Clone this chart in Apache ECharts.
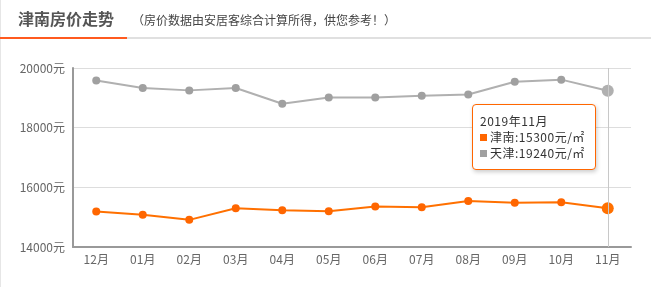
<!DOCTYPE html>
<html><head><meta charset="utf-8">
<script src="https://cdn.jsdelivr.net/npm/echarts@6/dist/echarts.min.js"></script>
<style>html,body{margin:0;padding:0;background:#fff;}#c{width:651px;height:287px;}</style>
</head><body><div id="c"></div>
<script>
var categories = ['12月','01月','02月','03月','04月','05月','06月','07月','08月','09月','10月','11月'];
var jinnan = [15190, 15080, 14910, 15300, 15230, 15200, 15360, 15330, 15540, 15480, 15500, 15300];
var tianjin = [19580, 19330, 19250, 19330, 18800, 19010, 19010, 19070, 19110, 19540, 19610, 19240];
var yTicks = [14000, 16000, 18000, 20000];
var titleText = '津南房价走势';
var subText = '（房价数据由安居客综合计算所得，供您参考！）';
var tipTitle = '2019年11月';
var FONT = '"Microsoft YaHei","Noto Sans CJK SC",sans-serif';

var chart = echarts.init(document.getElementById('c'), null, {renderer:'canvas'});
chart.setOption({
  animation:false,
  textStyle:{fontFamily:FONT},
  graphic:[
    {type:'rect', left:0, top:0, shape:{x:0,y:0,width:1,height:287}, style:{fill:'#e6e6e6'}},
    {type:'rect', shape:{x:0,y:37,width:651,height:2}, style:{fill:'#e0e0e0'}},
    {type:'rect', shape:{x:0,y:37,width:127,height:2}, style:{fill:'#ff5a1f'}},
    {type:'text', x:18, y:11, style:{text:titleText, fill:'#555', font:'bold 16px '+FONT}},
    {type:'text', x:132, y:14, style:{text:subText, fill:'#444', font:'12px '+FONT}}
  ],
  grid:{left:73, right:20, top:68, bottom:40},
  tooltip:{
    trigger:'axis', alwaysShowContent:true, triggerOn:'none',
    backgroundColor:'#fff', borderColor:'#ff6600', borderWidth:1, borderRadius:4,
    padding:[8,10,8,7],
    extraCssText:'box-shadow:1px 2px 4px rgba(0,0,0,0.2);letter-spacing:0.5px;',
    textStyle:{color:'#333', fontSize:12, fontFamily:FONT},
    position:function(){return [472,104];},
    axisPointer:{type:'line', lineStyle:{color:'#c8c8c8', width:1, type:'solid'}},
    formatter:function(ps){
      var s = '<div style="line-height:16px">'+tipTitle+'</div>';
      ps.forEach(function(p){
        s += '<div style="line-height:16px"><span style="display:inline-block;width:7px;height:7px;background:'+p.color+';margin-right:3px;vertical-align:1px"></span>'+p.seriesName+':'+p.value+'元/㎡</div>';
      });
      return s;
    }
  },
  xAxis:{
    type:'category', data:categories, boundaryGap:true,
    axisLine:{lineStyle:{color:'#999', width:2}},
    axisTick:{alignWithLabel:true, length:5, lineStyle:{color:'#b5d3f0'}},
    axisLabel:{color:'#666', fontSize:12, margin:6}
  },
  yAxis:{
    type:'value', min:14000, max:20000, interval:2000,
    axisLine:{show:true, lineStyle:{color:'#999', width:2}},
    axisTick:{show:false},
    axisLabel:{color:'#666', fontSize:12, margin:8, formatter:function(v){return v+'元';}},
    splitLine:{lineStyle:{color:'#ddd'}}
  },
  series:[
    {name:'津南', type:'line', data:jinnan, color:'#ff6600', symbol:'circle', symbolSize:8,
     lineStyle:{width:2}, emphasis:{scale:1.5, itemStyle:{borderWidth:0}}},
    {name:'天津', type:'line', data:tianjin, color:'#a0a0a0', symbol:'circle', symbolSize:8,
     lineStyle:{width:2}, emphasis:{scale:1.5, itemStyle:{borderWidth:0}}}
  ]
});
chart.dispatchAction({type:'showTip', seriesIndex:0, dataIndex:11});
</script></body></html>
